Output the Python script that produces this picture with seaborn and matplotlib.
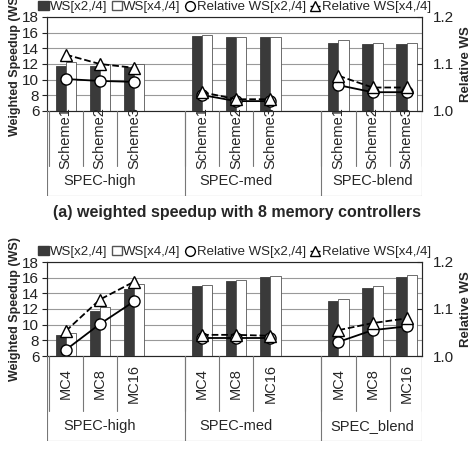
import matplotlib
matplotlib.use("Agg")
import matplotlib.pyplot as plt
import seaborn as sns
import numpy as np
import pandas as pd

sns.set_style("white")
plt.rcParams['font.family'] = ['Liberation Sans', 'DejaVu Sans']

groups = ["SPEC-high", "SPEC-med", "SPEC-blend"]
groups_b = ["SPEC-high", "SPEC-med", "SPEC_blend"]
schemes = ["Scheme1", "Scheme2", "Scheme3"]
mcs = ["MC4", "MC8", "MC16"]

a_ws2 = [11.8, 11.7, 11.6, 15.6, 15.4, 15.4, 14.7, 14.5, 14.5]
a_ws4 = [12.3, 12.0, 12.0, 15.7, 15.5, 15.5, 15.0, 14.7, 14.7]
a_rel2 = [1.068, 1.064, 1.062, 1.034, 1.021, 1.021, 1.055, 1.040, 1.040]
a_rel4 = [1.120, 1.100, 1.092, 1.040, 1.025, 1.025, 1.075, 1.050, 1.050]

b_ws2 = [8.7, 11.8, 14.5, 14.9, 15.6, 16.1, 13.0, 14.7, 16.1]
b_ws4 = [9.0, 12.3, 15.2, 15.1, 15.7, 16.2, 13.3, 15.0, 16.3]
b_rel2 = [1.013, 1.068, 1.116, 1.039, 1.039, 1.039, 1.030, 1.055, 1.063]
b_rel4 = [1.053, 1.120, 1.158, 1.045, 1.045, 1.043, 1.055, 1.070, 1.080]

pos = np.array([0, 1, 2, 4, 5, 6, 8, 9, 10], dtype=float)
W, H = 474, 451
fig = plt.figure(figsize=(4.74, 4.51), dpi=100)

def panel(top, ws2, ws4, rel2, rel4, sub, grp, caption):
    left, right = 47, 422
    bot = top + 94
    ax = fig.add_axes([left/W, 1-bot/H, (right-left)/W, (bot-top)/H])
    bw = 0.3
    ax.bar(pos - bw/2, ws2, width=bw, color="#3a3a3a", edgecolor="#3a3a3a", lw=0.6, zorder=2)
    ax.bar(pos + bw/2, ws4, width=bw, color="white", edgecolor="#555555", lw=0.6, zorder=2)
    ax.set_ylim(6, 18)
    ax.set_yticks(range(6, 19, 2))
    ax.set_xlim(-0.55, 10.45)
    ax.set_xticks([])
    ax.yaxis.grid(True, color="#999999", lw=0.8)
    ax.tick_params(axis='y', labelsize=11, pad=2, colors="#222222")
    ax.set_ylabel("Weighted Speedup (WS)", fontsize=9, fontweight="bold", labelpad=1)
    for s in ax.spines.values():
        s.set_color("#777777")
    ax2 = ax.twinx()
    ax2.set_ylim(1.0, 1.2)
    ax2.set_yticks([1.0, 1.1, 1.2])
    ax2.tick_params(axis='y', labelsize=11, direction='in', pad=8, colors="#222222")
    ax2.set_ylabel("Relative WS", fontsize=9.5, fontweight="bold", labelpad=4)
    for g in range(3):
        sl = slice(3*g, 3*g+3)
        ax2.plot(pos[sl], rel2[sl], "-", color="black", lw=1.3, marker="o", ms=8,
                 mfc="white", mec="black", mew=1.0)
        ax2.plot(pos[sl], rel4[sl], "--", color="black", lw=1.3, marker="^", ms=8,
                 mfc="white", mec="black", mew=1.0)
    from matplotlib.lines import Line2D
    from matplotlib.patches import Patch
    h = [Patch(fc="#3a3a3a", ec="#3a3a3a"), Patch(fc="white", ec="#555"),
         Line2D([], [], color="black", marker="o", mfc="white", ms=7, lw=1),
         Line2D([], [], color="black", marker="^", mfc="white", ms=7, lw=1, ls="--")]
    ax.legend(h, ["WS[x2,/4]", "WS[x4,/4]", "Relative WS[x2,/4]", "Relative WS[x4,/4]"],
              loc="lower center", bbox_to_anchor=(0.5, 0.985), ncol=4, frameon=False,
              fontsize=9.5, handlelength=0.8, handletextpad=0.1, columnspacing=0.3,
              borderaxespad=0)
    lt = bot
    lb = bot + 85
    axl = fig.add_axes([left/W, 1-lb/H, (right-left)/W, (lb-lt)/H])
    axl.set_xlim(-0.55, 10.45)
    axl.set_ylim(0, 1)
    axl.axis("off")
    for p, s in zip(pos, sub * 3):
        axl.text(p, 0.68, s, rotation=90, ha="center", va="center", fontsize=10.5)
    for x in list(pos - 0.5) + [10.45]:
        axl.plot([x, x], [0.35, 1], color="#777777", lw=0.8)
    for gi, gname in enumerate(grp):
        axl.text(pos[3*gi+1], 0.18, gname, ha="center", va="center", fontsize=10.5)
    for x in [-0.55, 3.5, 7.5, 10.45]:
        axl.plot([x, x], [0, 1], color="#777777", lw=0.8)
    axl.plot([-0.55, 10.45], [0.0, 0.0], color="#777777", lw=0.8)
    fig.text(0.5, 1-(lb+17)/H, caption, ha="center", va="center", fontsize=11.5, fontweight="bold")

panel(17, a_ws2, a_ws4, a_rel2, a_rel4, schemes, groups, "(a) weighted speedup with 8 memory controllers")
panel(262, b_ws2, b_ws4, b_rel2, b_rel4, mcs, groups_b, "(b) weighted speedup of Scheme 1")

fig.savefig("out.png", dpi=100)
